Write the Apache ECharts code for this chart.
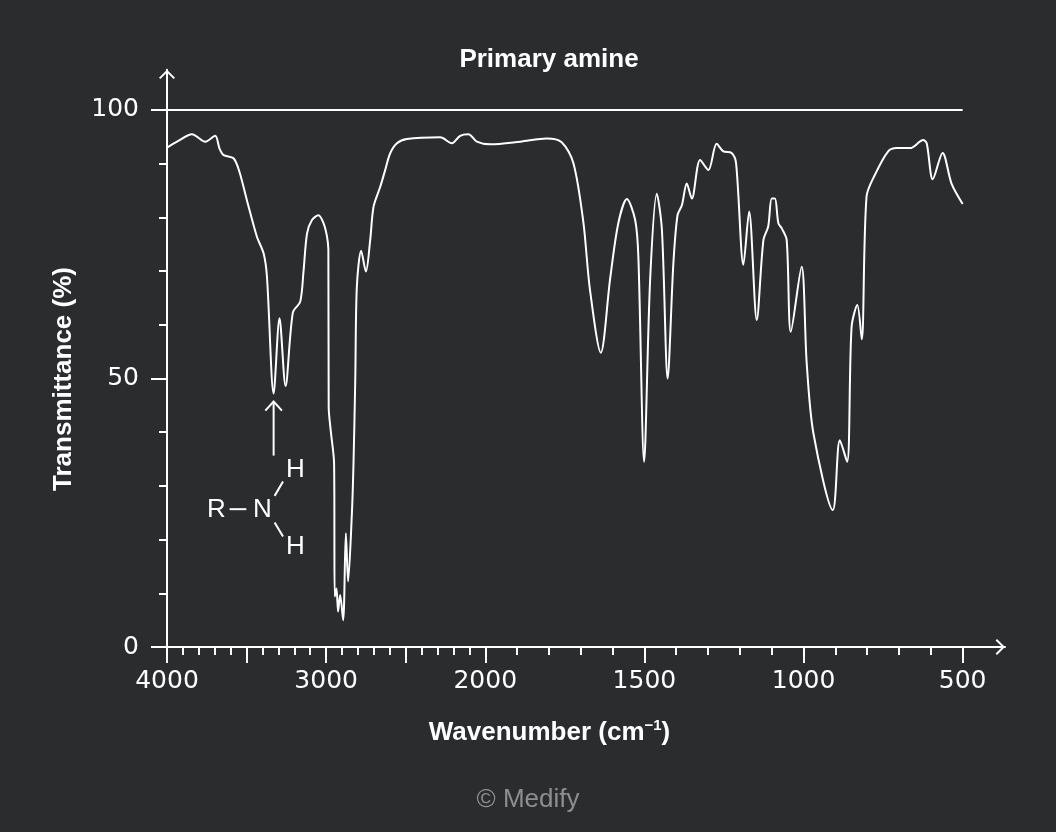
<!DOCTYPE html>
<html>
<head>
<meta charset="utf-8">
<title>Primary amine</title>
<script src="https://cdn.jsdelivr.net/npm/echarts@6/dist/echarts.min.js"></script>
<style>
html, body { margin: 0; padding: 0; background: #2b2c2e; }
#chart { width: 1056px; height: 832px; }
</style>
</head>
<body>
<div id="chart"></div>
<script>
// IR spectrum of a primary amine
var wavenumber = [
    4000, 3937, 3843, 3759, 3697, 3670, 3644, 3582, 3545, 3498, 3435, 3393, 3372,
    3330, 3293, 3255, 3209, 3163, 3142, 3120, 3089, 3048, 3016, 2995, 2986, 2984,
    2970, 2950, 2946, 2935, 2925, 2912, 2893, 2876, 2862, 2838, 2828, 2817, 2807,
    2780, 2750, 2723, 2702, 2660, 2629, 2598, 2555, 2493, 2283, 2210, 2158, 2106,
    2053, 1985, 1890, 1807, 1760, 1723, 1692, 1671, 1637, 1608, 1582, 1555, 1529,
    1519, 1501, 1482, 1461, 1445, 1427, 1409, 1396, 1382, 1367, 1351, 1325, 1299,
    1273, 1252, 1226, 1212, 1189, 1171, 1147, 1126, 1111, 1100, 1090, 1079, 1068,
    1053, 1040, 1006, 990, 969, 908, 886, 863, 849, 831, 817, 802, 776, 734, 707,
    665, 624, 613, 594, 563, 535, 500
]
var transmittance = [
    93.0, 94.1, 95.5, 94.1, 95.2, 92.8, 91.6, 91.0, 88.5, 83.2, 76.4, 73.3, 69.0,
    47.2, 61.2, 48.6, 62.3, 64.3, 70.0, 77.0, 79.5, 80.4, 78.9, 76.5, 74.0, 44.7,
    40.0, 34.2, 9.4, 10.9, 6.6, 9.7, 5.0, 21.2, 12.2, 25.0, 34.2, 49.7, 67.1,
    73.8, 69.9, 75.8, 82.0, 85.7, 88.8, 91.9, 93.8, 94.6, 94.9, 93.8, 95.2, 95.5,
    94.1, 93.6, 94.1, 94.7, 94.0, 90.1, 79.2, 66.5, 54.8, 68.4, 78.9, 83.4, 79.5,
    72.7, 34.5, 68.4, 84.4, 77.7, 50.0, 71.4, 80.4, 82.3, 86.3, 83.5, 90.7, 88.8,
    93.7, 92.3, 92.0, 90.1, 71.2, 81.1, 60.9, 75.8, 78.3, 83.5, 83.5, 78.9, 77.9,
    75.8, 58.7, 70.8, 52.8, 39.8, 25.5, 38.5, 34.5, 59.6, 63.7, 57.3, 83.9, 87.9, 92.3, 92.9,
    92.9, 94.4, 93.8, 87.1, 92.0, 86.3, 82.5
]
// 100 % line across the whole range
var fullWn = [4000, 500]
var fullT = [100, 100]

var xLabelWn = [4000, 3000, 2000, 1500, 1000, 500]
var xMajorWn = [4000, 3500, 3000, 2500, 2000, 1500, 1000, 500]
var yLabelT = [0, 50, 100]
var yMinorT = [0, 10, 20, 30, 40, 50, 60, 70, 80, 90, 100]

// N-H band that the arrow points at
var nhWn = 3330
var nhTip = 45.7

// below 2000 cm-1 the axis is stretched 2x
function toU(w) { return w >= 2000 ? 4000 - w : 2000 + 2 * (2000 - w) }
function fromU(u) { return u <= 2000 ? 4000 - u : 2000 - (u - 2000) / 2 }

var xMinorWn = []
for (var w = 4000; w >= 500; w -= 100) xMinorWn.push(w)

var U_MAX = 5266
var Y_MAX = 107.5
var white = '#ffffff'
var chevron = 'path://M8,0 L16,8 L14.6,9.4 L8,2.8 L1.4,9.4 L0,8 Z'
var tickFont = 'DejaVu Sans'
var textFont = 'Liberation Sans'

var myChart = echarts.init(document.getElementById('chart'))

var option = {
    backgroundColor: '#2b2c2e',
    animation: false,
    grid: { left: 167, right: 51, top: 69.7, bottom: 185 },
    xAxis: [
        {
            type: 'value', min: 0, max: U_MAX, position: 'bottom',
            axisLine: {
                onZero: false,
                lineStyle: { color: white, width: 2 },
                symbol: ['none', chevron], symbolSize: [16, 9.4], symbolOffset: [0, -4.7]
            },
            axisTick: {
                customValues: xMajorWn.map(toU), length: 16,
                lineStyle: { color: white, width: 2 }
            },
            axisLabel: {
                customValues: xLabelWn.map(toU),
                formatter: function (u) { return String(Math.round(fromU(u))) },
                color: white, fontSize: 25, fontFamily: tickFont, margin: 22
            },
            splitLine: { show: false }
        },
        {
            // minor ticks, moved down onto the bottom edge
            type: 'value', min: 0, max: U_MAX, position: 'top', offset: -(832 - 185 - 69.7),
            axisLine: { show: false, onZero: false },
            axisTick: {
                customValues: xMinorWn.map(toU), length: 8, inside: true,
                lineStyle: { color: white, width: 2 }
            },
            axisLabel: { show: false },
            splitLine: { show: false }
        }
    ],
    yAxis: [
        {
            type: 'value', min: 0, max: Y_MAX, position: 'left',
            axisLine: {
                show: true, onZero: false,
                lineStyle: { color: white, width: 2 },
                symbol: ['none', chevron], symbolSize: [16, 9.4], symbolOffset: [0, -4.7]
            },
            axisTick: {
                customValues: yLabelT, length: 16,
                lineStyle: { color: white, width: 2 }
            },
            axisLabel: {
                customValues: yLabelT,
                color: white, fontSize: 25, fontFamily: tickFont, margin: 28
            },
            splitLine: { show: false }
        },
        {
            type: 'value', min: 0, max: Y_MAX, position: 'right', offset: -(1056 - 167 - 51),
            axisLine: { show: false, onZero: false },
            axisTick: {
                customValues: yMinorT, length: 8, inside: true,
                lineStyle: { color: white, width: 2 }
            },
            axisLabel: { show: false },
            splitLine: { show: false }
        }
    ],
    series: [
        {
            name: 'Transmittance',
            type: 'line',
            data: wavenumber.map(function (w, i) { return [toU(w), transmittance[i]] }),
            showSymbol: false,
            smooth: 0.3,
            lineStyle: { color: white, width: 2 },
            silent: true
        },
        {
            name: '100 %',
            type: 'line',
            data: fullWn.map(function (w, i) { return [toU(w), fullT[i]] }),
            showSymbol: false,
            lineStyle: { color: white, width: 2 },
            silent: true
        }
    ]
}
myChart.setOption(option)

// annotation hangs off the N-H band
var tip = myChart.convertToPixel({ gridIndex: 0 }, [toU(nhWn), nhTip])
var tx = tip[0], ty = tip[1]

function label(text, x, y, size, weight, color, rot) {
    return {
        type: 'text', x: x, y: y, rotation: rot || 0, silent: true,
        style: {
            text: text, fill: color || white, fontSize: size, fontWeight: weight || 'normal',
            fontFamily: textFont, align: 'center', verticalAlign: 'middle'
        }
    }
}
function seg(points) {
    return {
        type: 'polyline', silent: true,
        shape: { points: points },
        style: { stroke: white, lineWidth: 2, fill: null }
    }
}

myChart.setOption({
    graphic: [
        label('Primary amine', 549, 60, 26, 'bold'),
        label('Transmittance (%)', 63.5, 379, 26, 'bold', white, Math.PI / 2),
        {
            type: 'text', x: 549.5, y: 733, silent: true,
            style: {
                text: 'Wavenumber (cm{sup|−1})', fill: white, fontSize: 26, fontWeight: 'bold',
                fontFamily: textFont, align: 'center', verticalAlign: 'middle',
                rich: { sup: { fontSize: 15, fontWeight: 'bold', fontFamily: textFont, fill: white, verticalAlign: 'top', lineHeight: 30 } }
            }
        },
        label('© Medify', 528, 800, 26, 'normal', '#8e8e8e'),
        // arrow
        seg([[tx, ty], [tx, ty + 54]]),
        seg([[tx - 8.3, ty + 9], [tx, ty], [tx + 8.3, ty + 9]]),
        // R-NH2
        label('R', tx - 57.3, ty + 108.3, 26),
        seg([[tx - 44, ty + 107.6], [tx - 27.3, ty + 107.6]]),
        label('N', tx - 11.3, ty + 108.3, 26),
        seg([[tx + 1, ty + 94.3], [tx + 9.4, ty + 80]]),
        label('H', tx + 21.7, ty + 68.3, 26),
        seg([[tx + 1, ty + 121], [tx + 9.4, ty + 135]]),
        label('H', tx + 21.7, ty + 145, 26)
    ]
})
</script>
</body>
</html>
